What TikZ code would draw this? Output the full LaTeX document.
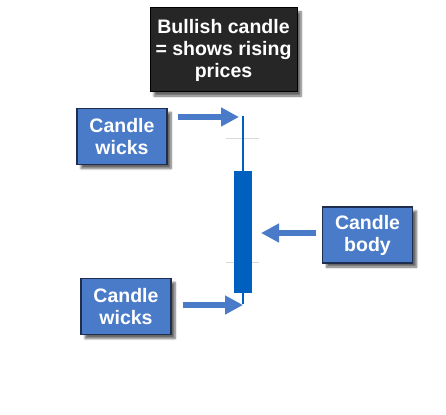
\documentclass[tikz,border=0pt]{standalone}
\usepackage{fontspec}
\setmainfont{Liberation Sans}
\usetikzlibrary{arrows.meta,shadows.blur}
\definecolor{boxblue}{HTML}{4A7BC9}
\definecolor{boxedge}{HTML}{1F2E4E}
\definecolor{candleblue}{HTML}{0060C0}
\definecolor{darkbox}{HTML}{262626}
\newcommand{\txt}[0]{\fontsize{19.5}{22}\selectfont\bfseries}
\newcommand{\grid}[1]{\draw[gridline] (226,#1) --++ (33,0)}
\tikzset{
  callout/.style={draw=boxedge, line width=1.4pt, fill=boxblue, text=white,
    minimum width=90pt, minimum height=56pt, align=center, font=\txt,
    blur shadow={shadow xshift=4pt, shadow yshift=-4pt, shadow opacity=60, shadow blur steps=6}},
  titlebox/.style={draw=black, line width=1pt, fill=darkbox, text=white,
    minimum width=147pt, minimum height=84pt, align=center, font=\txt,
    blur shadow={shadow xshift=4pt, shadow yshift=-4pt, shadow opacity=60, shadow blur steps=6}},
  blockarrow/.style={draw=boxblue, line width=6pt,
    -{Triangle[length=18pt 0 0,width=18pt 0 0]}},
  gridline/.style={draw=black!15, line width=0.8pt}
}

\begin{document}
\begin{tikzpicture}[x=1pt,y=-1pt]
	\useasboundingbox (0,0) rectangle (446,414);
	\grid{138};
	\grid{262};
	% candle
	\draw[candleblue, line width=1.2pt] (243,116) -- (243,304);
	\fill[candleblue] (234,171) rectangle (252,293);
	% labels
	\node[titlebox] (title) at (223.5,50) {Bullish candle\\= shows rising\\prices};
	\node[callout] (wickstop) at (122,136.5) {Candle\\wicks};
	\node[callout] (wicksbot) at (126,306.5) {Candle\\wicks};
	\node[callout] (body) at (367.5,235) {Candle\\body};
	\coordinate (toptip) at (239,117);
	\coordinate (bottip) at (243,305);
	\coordinate (bodytip) at (261,233);
	\draw[blockarrow, shorten <=10pt] (wickstop.east |- toptip) -- (toptip);
	\draw[blockarrow, shorten <=11pt] (wicksbot.east |- bottip) -- (bottip);
	\draw[blockarrow, shorten <=6pt] (body.west |- bodytip) -- (bodytip);
\end{tikzpicture}
\end{document}
